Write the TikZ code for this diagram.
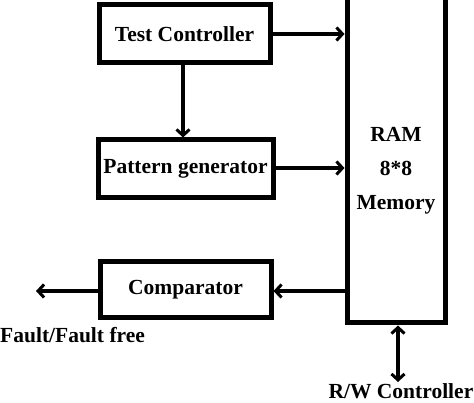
\documentclass[tikz,border=0pt]{standalone}
\usepackage{fontspec}
\setmainfont{Liberation Serif}
\usetikzlibrary{arrows.meta}
\begin{document}
\begin{tikzpicture}[x=1pt,y=-1pt,
  blk/.style={draw,line width=5pt,inner sep=0pt},
  lbl/.style={font=\fontsize{21.5}{24}\selectfont\bfseries,inner sep=0pt},
  conn/.style={line width=3.5pt,-{Straight Barb[length=6pt,width=13pt,line width=3pt]}},
  conn2/.style={line width=3.5pt,{Straight Barb[length=6pt,width=13pt,line width=3pt]}-{Straight Barb[length=6pt,width=13pt,line width=3pt]}}]
\useasboundingbox (0,0) rectangle (474,403);
\node[blk,minimum width=171pt,minimum height=58pt] (tc) at (184.5,34) {};
\node[lbl] at (tc.center) {Test Controller};
\node[blk,minimum width=175pt,minimum height=58pt] (pg) at (185.5,169) {};
\node[lbl] at (pg.center) {Pattern generator};
\node[blk,minimum width=171pt,minimum height=56pt] (cmp) at (185.5,290) {};
\node[lbl] at (cmp.center) {Comparator};
\node[blk,minimum width=98pt,minimum height=326pt] (ram) at (396,160) {};
\node[lbl,align=center,text width=98pt] at (396,170.5) {RAM\\[10pt]8*8\\[10pt]Memory};
\coordinate (out) at (36,291);
\coordinate (rw) at (398,382);
\node[lbl,anchor=base west] (ff) at (0,343) {Fault/Fault free};
\node[lbl,anchor=base east] (rwl) at (473.5,399) {R/W Controller};
\draw[conn] (tc.east |- 0,34) -- (ram.west |- 0,34);
\draw[conn] (pg.east |- 0,168) -- (ram.west |- 0,168);
\draw[conn] (tc.south -| 183,0) -- (pg.north -| 183,0);
\draw[conn] (ram.west |- 0,291) -- (cmp.east |- 0,291);
\draw[conn] (cmp.west |- 0,291) -- (out);
\draw[conn2] (ram.south -| rw) -- (rw);
\end{tikzpicture}
\end{document}
